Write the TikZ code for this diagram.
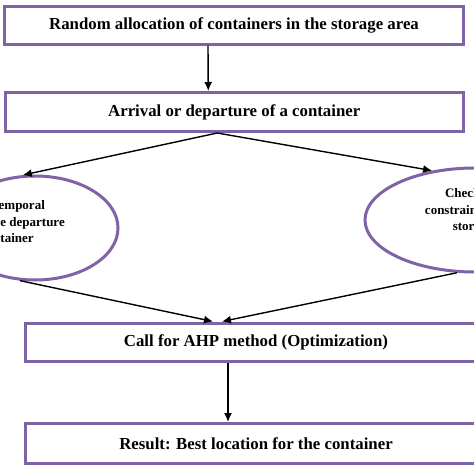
\documentclass[tikz,border=0pt]{standalone}
\usepackage{fontspec}
\setmainfont{Liberation Serif}
\usetikzlibrary{arrows.meta}
\usetikzlibrary{shapes.geometric}
\definecolor{boxpurple}{RGB}{127,99,166}
\tikzset{%
	>={Latex[width=8pt,length=9pt]},
	% Specifications for style of nodes:
	base/.style = {draw=boxpurple, line width=3pt, fill=white,
		inner sep=0pt, text centered},
	process/.style = {base, rectangle, minimum height=38.5pt,
		font=\fontsize{16.8}{20}\selectfont\bfseries},
	check/.style = {base, ellipse, minimum height=104pt},
	checktext/.style = {align=center, inner sep=0pt,
		font=\fontsize{13}{16.5}\selectfont\bfseries},
	flow/.style = {->, line width=1.4pt, draw=black},
}
\begin{document}
\begin{tikzpicture}[x=1pt, y=-1pt]
	\useasboundingbox (0,0) rectangle (474,474);
	\clip (0,0) rectangle (474,474);
	% Specification of nodes (position, etc.)
	\node (allocation) [process, minimum width=459pt, minimum height=37.5pt] at (234,25.25) {Random allocation of containers in the storage area};
	\node (event)      [process, minimum width=457.5pt, minimum height=39pt] at (234.25,112) {Arrival or departure of a container};
	\node (temporal)   [check, minimum width=166pt] at (35,228) {};
	\node (spatial)    [check, minimum width=220pt] at (475,220) {};
	\node (temporaltext) [checktext] at (-10,222) {Check the temporal\\constraint of the departure\\of the container};
	\node (spatialtext)  [checktext] at (473,211) {Check the\\constraints of the\\storage};
	\node (ahp)        [process, minimum width=461pt] at (256,342.25) {Call for AHP method (Optimization)};
	\node (result)     [process, minimum width=461pt, minimum height=39.5pt] at (256,443.25) {Result: Best location for the container};
	% Connectors
	\draw[flow] ([xshift=-26pt]allocation.south) -- ([xshift=-26pt]event.north);
	\draw[flow] ([xshift=-17pt]event.south) -- (temporal.103);
	\draw[flow] ([xshift=-17pt]event.south) -- (spatial.131);
	\draw[flow] (temporal.254) -- ([xshift=-43pt]ahp.north);
	\draw[flow] (spatial.251) -- ([xshift=-34pt]ahp.north);
	\draw[flow] ([xshift=-28pt]ahp.south) -- ([xshift=-28pt]result.north);
\end{tikzpicture}
\end{document}
